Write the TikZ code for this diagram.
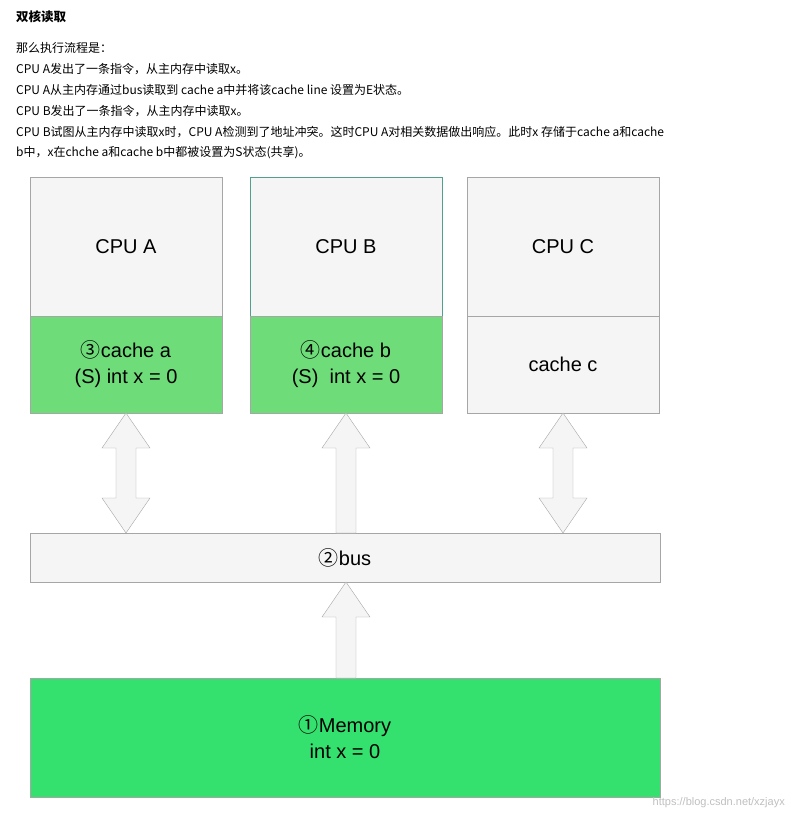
\documentclass[tikz,border=0pt]{standalone}
\usepackage{fontspec}
\setmainfont{Liberation Sans}
\newfontfamily\cjk{Noto Sans CJK SC}
\begin{document}
\begin{tikzpicture}[x=1pt,y=-1pt,
  box/.style={draw=gray!70,fill=white!96!black,minimum width=192pt,inner sep=0pt,font=\fontsize{20}{26}\selectfont,align=center},
  grn/.style={box,fill=green!55!black!20!green!60},
  blk/.style={draw=gray!70,fill=white!96!black},
  txt/.style={anchor=west,inner sep=0pt,font=\cjk\fontsize{12}{14}\selectfont}]
\useasboundingbox (0,0) rectangle (795,822);
\node[txt,font=\cjk\bfseries\fontsize{12.5}{14}\selectfont] (t0) at (16,17) {双核读取};
\node[txt] (t1) at (16,48) {那么执行流程是：};
\node[txt] (t2) at (16,69) {CPU A发出了一条指令，从主内存中读取x。};
\node[txt] (t3) at (16,90) {CPU A从主内存通过bus读取到 cache a中并将该cache line 设置为E状态。};
\node[txt] (t4) at (16,111) {CPU B发出了一条指令，从主内存中读取x。};
\node[txt] (t5) at (16,132) {CPU B试图从主内存中读取x时，CPU A检测到了地址冲突。这时CPU A对相关数据做出响应。此时x 存储于cache a和cache};
\node[txt] (t6) at (16,153) {b中，x在chche a和cache b中都被设置为S状态(共享)。};
% CPUs
\node[box,minimum height=139pt] (ca) at (126,246.5) {CPU A};
\node[box,minimum height=97pt,fill={rgb,255:red,111;green,220;blue,122}] (xa) at (126,364.5) {{\cjk ③}cache a\\(S) int x = 0};
\node[box,minimum height=139pt,draw={rgb,255:red,80;green,160;blue,140}] (cb) at (346,246.5) {CPU B};
\node[box,minimum height=97pt,fill={rgb,255:red,111;green,220;blue,122}] (xb) at (346,364.5) {{\cjk ④}cache b\\(S)\ \ int x = 0};
\node[box,minimum height=139pt] (cc) at (563,246.5) {CPU C};
\node[box,minimum height=97pt] (xc) at (563,364.5) {cache c};
\node[box,minimum width=630pt,minimum height=49pt] (bus) at (345,557.5) {{\cjk ②}bus};
\node[box,minimum width=630pt,minimum height=119pt,fill={rgb,255:red,52;green,224;blue,110}] (mem) at (345,737.5) {{\cjk ①}Memory\\int x = 0};
% double arrows
\foreach \c in {126,563}{
  \draw[blk] (\c,413) -- (\c+24,448) -- (\c+10,448) -- (\c+10,498) -- (\c+24,498) -- (\c,533)
     -- (\c-24,498) -- (\c-10,498) -- (\c-10,448) -- (\c-24,448) -- cycle;
}
\draw[blk] (346,413) -- (370,448) -- (356,448) -- (356,533) -- (336,533) -- (336,448) -- (322,448) -- cycle;
\draw[blk] (346,582) -- (370,617) -- (356,617) -- (356,678) -- (336,678) -- (336,617) -- (322,617) -- cycle;
\node[anchor=east,inner sep=0pt,text=gray!50,font=\fontsize{11}{12}\selectfont] (wm) at (785,803) {https://blog.csdn.net/xzjayx};
\end{tikzpicture}
\end{document}
